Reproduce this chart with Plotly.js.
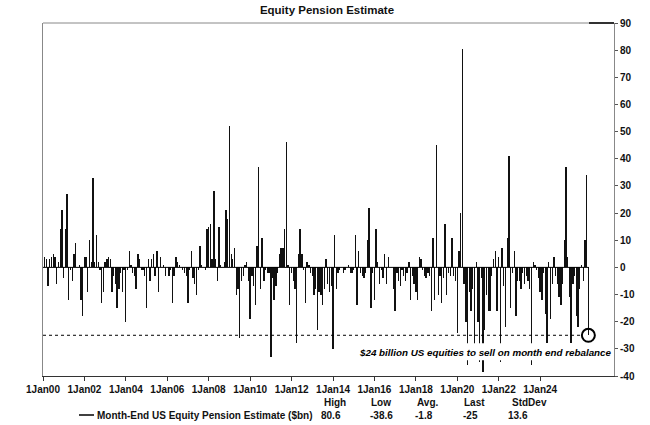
<!DOCTYPE html>
<html>
<head>
<meta charset="utf-8">
<script src="https://cdn.plot.ly/plotly-3.0.1.min.js"></script>
<style>
  html, body { margin: 0; padding: 0; background: #fff; }
  #chart { width: 650px; height: 425px; }
</style>
</head>
<body>
<div id="chart"></div>
<script>
(function () {
  "use strict";

  // Monthly month-end pension rebalance estimates, $bn, starting Jan 2000.
  // One value per month.
  const values2000to2004 = [
    4, 3, -7, 3, 4, 5, 4, -6, 2, 14, 21,
    -4, 14, 27, -12, -1, -5, 5, 9, 0, 1, -12, -18,
    4, 4, -9, 10, 2, 33, 2, 12, 2, -1, -13, -9,
    2, 3, 4, 3, -9, -3, -6, -15, -8, -2, -9, -1,
    -20, -1, 6, 1, -2, -3, -8, 5, 3, -1, -1, -3,
    -15
  ];
  const values2005to2009 = [
    3, -5, 3, 5, -3, 6, -9, 4, 0, 1, -3,
    0, -3, -1, -13, -3, 4, 2, 1, 0, -1, -2, -3,
    -13, -1, 6, -4, -6, -10, -1, 8, 1, 0, -1, 14,
    15, 16, 3, 28, 3, -5, 15, 1, 0, 2, 21, 18,
    52, 5, 3, 7, -10, -8, -26, -5, -3, 1, 2, -5,
    -19
  ];
  const values2010to2014 = [
    -3, -7, -14, 8, 37, -8, 11, -5, -1, -2, -2,
    -33, -4, -12, -7, -2, 5, 7, 7, 14, 46, 1, -14,
    -2, -5, -8, -28, 5, 14, 5, -1, -13, 2, 1, -2,
    -3, -10, -8, -23, -9, -10, -14, -8, 3, -6, -9, -7,
    -30, 12, -8, -2, -1, 0, -2, -1, 0, 1, -2, -2,
    -1
  ];
  const values2015to2019 = [
    12, -14, 6, -2, -3, -4, -2, 10, 22, -15, -2,
    -12, 14, 2, -6, -1, -4, 5, -6, 4, 0, 0, -8,
    -16, -2, -5, -7, -1, -3, -5, -2, 2, -12, -3, -6,
    -9, -12, 4, 3, -1, -3, -4, -2, -3, -16, 11, -12,
    45, -10, -3, -13, -4, 16, -10, -2, -3, 11, -3, -5,
    -24
  ];
  const values2020to2026 = [
    6, 20, 80.6, -6, -20, -36, -9, -16, -8, -30, 2,
    -20, -35, -4, -38.6, -23, -10, -16, -16, -3, 3, 6, -16,
    4, -35, 7, -7, -22, 11, 41, -15, -2, 6, -18, -5,
    -5, -8, -2, -6, -3, -5, -8, -36, 2, 1, -1, -4,
    -9, -12, -2, -17, -28, 2, -19, -6, 4, -3, -6, -11,
    -14, -6, 10, 37, 4, -11, -28, -6, -3, -18, -22, -8,
    1, -5, 10, 34, -25
  ];

  const SERIES_NAME = "Month-End US Equity Pension Estimate ($bn)";
  const STAT_HEADERS = ["High", "Low", "Avg.", "Last", "StdDev"];
  const STAT_VALUES = ["80.6", "-38.6", "-1.8", "-25", "13.6"];
  const TICK_YEARS = [2000, 2002, 2004, 2006, 2008, 2010, 2012, 2014, 2016, 2018, 2020, 2022, 2024];
  const Y_TICKS = [-40, -30, -20, -10, 0, 10, 20, 30, 40, 50, 60, 70, 80, 90];
  const NOTE = "$24 billion US equities to sell on month end rebalance";
  const THRESHOLD = -25;

  const values = [].concat(values2000to2004, values2005to2009, values2010to2014,
    values2015to2019, values2020to2026);

  // Bars sit on month-end dates, like the source chart.
  function monthEnd(i) {
    return new Date(Date.UTC(2000, i + 1, 0)).toISOString().slice(0, 10);
  }
  const dates = values.map(function (_, i) { return monthEnd(i); });
  const lastDate = dates[dates.length - 1];

  // Plot box in page pixels.
  const L = 43, R = 614, T = 23, B = 376;
  function px(x) { return (x - L) / (R - L); }
  function py(y) { return (B - y) / (B - T); }

  const FONT = "Liberation Sans, Arial, sans-serif";
  const DAY_MS = 24 * 60 * 60 * 1000;

  const trace = {
    type: "bar",
    x: dates,
    y: values,
    width: 24 * DAY_MS,
    marker: { color: "#111", line: { width: 0 } },
    hoverinfo: "x+y"
  };

  const annotations = [
    {
      text: NOTE, xref: "paper", yref: "y", x: px(485), y: -31.3,
      xanchor: "center", yanchor: "middle", showarrow: false,
      font: { family: FONT, size: 9.8, color: "#000", weight: "bold", style: "italic" }
    },
    {
      text: SERIES_NAME, xref: "paper", yref: "paper", x: px(95), y: py(415),
      xanchor: "left", yanchor: "middle", showarrow: false,
      font: { family: FONT, size: 10, color: "#111", weight: "bold" }
    }
  ];
  const headerX = [322, 369, 415, 462, 510];
  const valueX = [319, 368, 413, 461, 506];
  STAT_HEADERS.forEach(function (h, i) {
    annotations.push({
      text: h, xref: "paper", yref: "paper", x: px(headerX[i]), y: py(403),
      xanchor: "left", yanchor: "middle", showarrow: false,
      font: { family: FONT, size: 10, color: "#111", weight: "bold" }
    });
    annotations.push({
      text: STAT_VALUES[i], xref: "paper", yref: "paper", x: px(valueX[i]), y: py(415),
      xanchor: "left", yanchor: "middle", showarrow: false,
      font: { family: FONT, size: 10, color: "#111", weight: "bold" }
    });
  });

  const shapes = [
    // baseline under the bars
    { type: "line", xref: "x", yref: "y", x0: "2000-01-01", x1: lastDate, y0: 0, y1: 0,
      line: { color: "#000", width: 1 } },
    // -25 marker line
    { type: "line", xref: "paper", yref: "y", x0: 0, x1: px(582), y0: THRESHOLD, y1: THRESHOLD,
      line: { color: "#000", width: 1, dash: "3px,3px" } },
    // white box behind the note hides the bar ends there
    { type: "rect", xref: "paper", yref: "y", x0: px(356), x1: px(612), y0: -34.2, y1: -27.9,
      fillcolor: "#fff", line: { width: 0 }, layer: "above" },
    // circle on the latest value
    { type: "circle", xref: "x", yref: "y", xsizemode: "pixel", ysizemode: "pixel",
      xanchor: lastDate, yanchor: THRESHOLD, x0: -6.5, x1: 6.5, y0: -6.5, y1: 6.5,
      line: { color: "#000", width: 2 } },
    // top frame, and the short dark stub at its right end
    { type: "line", xref: "paper", yref: "paper", x0: 0, x1: 1, y0: 1, y1: 1,
      line: { color: "#888", width: 1 } },
    { type: "line", xref: "paper", yref: "paper", x0: px(589), x1: 1, y0: 1, y1: 1,
      line: { color: "#000", width: 1.5 } },
    // legend swatch
    { type: "line", xref: "paper", yref: "paper", x0: px(79), x1: px(94), y0: py(415), y1: py(415),
      line: { color: "#000", width: 1.5 } }
  ];

  const layout = {
    width: 650,
    height: 425,
    margin: { l: L, r: 650 - R, t: T, b: 425 - B, pad: 0 },
    paper_bgcolor: "#fff",
    plot_bgcolor: "#fff",
    showlegend: false,
    font: { family: FONT, color: "#111" },
    title: {
      text: "Equity Pension Estimate",
      font: { family: FONT, size: 11.5, color: "#111", weight: "bold" },
      xref: "container", yref: "container", x: 327 / 650, y: 1 - 10 / 425,
      xanchor: "center", yanchor: "middle"
    },
    xaxis: {
      type: "date",
      range: ["2000-01-01", "2027-07-26"],
      tickvals: TICK_YEARS.map(function (y) { return y + "-01-01"; }),
      ticktext: TICK_YEARS.map(function (y) { return "1Jan" + String(y).slice(2); }),
      ticks: "outside", ticklen: 4, tickcolor: "#333", tickwidth: 1,
      showline: true, linecolor: "#333", linewidth: 1, mirror: false,
      showgrid: false, zeroline: false,
      tickfont: { family: FONT, size: 10, color: "#111", weight: "bold" }
    },
    yaxis: {
      side: "right",
      range: [-40, 90],
      tickvals: Y_TICKS,
      ticktext: Y_TICKS.map(String),
      ticks: "outside", ticklen: 3, tickcolor: "#555", tickwidth: 1,
      showline: true, linecolor: "#888", linewidth: 1, mirror: true,
      showgrid: false, zeroline: false,
      tickfont: { family: FONT, size: 10, color: "#111", weight: "bold" }
    },
    bargap: 0,
    annotations: annotations,
    shapes: shapes
  };

  Plotly.newPlot("chart", [trace], layout, { displayModeBar: false, staticPlot: true });
})();
</script>
</body>
</html>
